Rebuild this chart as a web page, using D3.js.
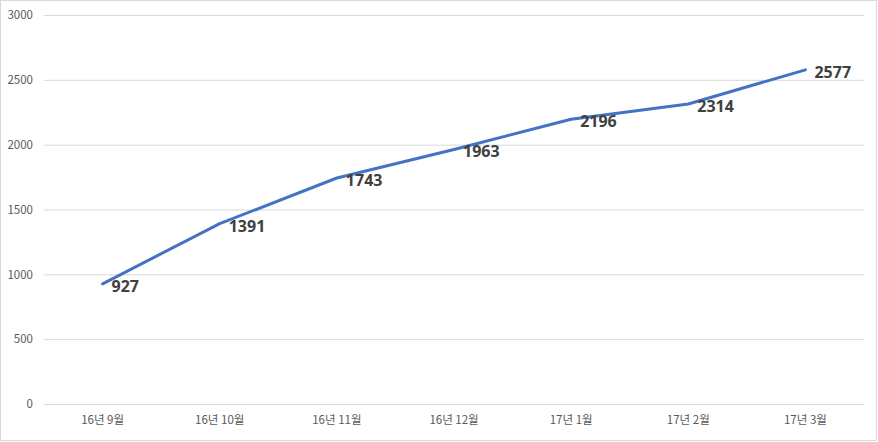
<!DOCTYPE html>
<html>
<head>
<meta charset="utf-8">
<script src="https://cdn.jsdelivr.net/npm/d3@7"></script>
<style>
  html, body { margin: 0; padding: 0; background: #fff; }
  body { width: 878px; height: 442px; overflow: hidden; }
</style>
</head>
<body>
<script>
// 데이터
const months = ['16년 9월', '16년 10월', '16년 11월', '16년 12월', '17년 1월', '17년 2월', '17년 3월'];
const counts = [927, 1391, 1743, 1963, 2196, 2314, 2577];
const yTicks = [0, 500, 1000, 1500, 2000, 2500, 3000];

const width = 878;
const height = 442;
const margin = { top: 15, right: 14, bottom: 38, left: 44 };

const svg = d3.select('body').append('svg')
    .attr('width', width)
    .attr('height', height);

// 바깥 테두리
svg.append('rect')
    .attr('x', 0.5).attr('y', 0.5)
    .attr('width', width - 2).attr('height', height - 2)
    .attr('fill', 'none')
    .attr('stroke', '#d9d9d9');

const xScale = d3.scaleBand()
    .domain(months)
    .range([margin.left, width - margin.right]);

const yScale = d3.scaleLinear()
    .domain([0, 3000])
    .range([height - margin.bottom, margin.top]);

// 가로 눈금선
svg.append('g')
    .attr('transform', `translate(${margin.left},0)`)
    .call(d3.axisLeft(yScale).tickValues(yTicks).tickFormat(d3.format('d'))
        .tickSize(-(width - margin.left - margin.right)).tickPadding(11))
    .call(g => g.select('.domain').remove())
    .call(g => g.selectAll('.tick line').attr('stroke', '#d9d9d9'))
    .call(g => g.selectAll('.tick text')
        .attr('fill', '#595959')
        .style('font-family', '"Noto Sans CJK KR", "Noto Sans", sans-serif')
        .style('font-size', '11.5px'));

// x축
svg.append('g')
    .attr('transform', `translate(0,${height - margin.bottom})`)
    .call(d3.axisBottom(xScale).tickSize(0).tickPadding(12))
    .call(g => g.select('.domain').remove())
    .call(g => g.selectAll('.tick text')
        .attr('fill', '#595959')
        .style('font-family', '"Noto Sans CJK KR", "Noto Sans", sans-serif')
        .style('font-size', '11.5px'));

const cx = d => xScale(d) + xScale.bandwidth() / 2;

// 선
const line = d3.line()
    .x((d, i) => cx(months[i]))
    .y(d => yScale(d));

svg.append('path')
    .datum(counts)
    .attr('fill', 'none')
    .attr('stroke', '#4472c4')
    .attr('stroke-width', 3)
    .attr('stroke-linecap', 'round')
    .attr('stroke-linejoin', 'round')
    .attr('d', line);

// 데이터 레이블
svg.selectAll('.label')
    .data(counts)
    .enter().append('text')
    .attr('class', 'label')
    .attr('x', (d, i) => cx(months[i]) + 9)
    .attr('y', d => yScale(d) + 8)
    .attr('fill', '#404040')
    .style('font-family', '"Noto Sans", "Open Sans", sans-serif')
    .style('font-weight', 'bold')
    .style('font-size', '16px')
    .text(d => d);
</script>
</body>
</html>
